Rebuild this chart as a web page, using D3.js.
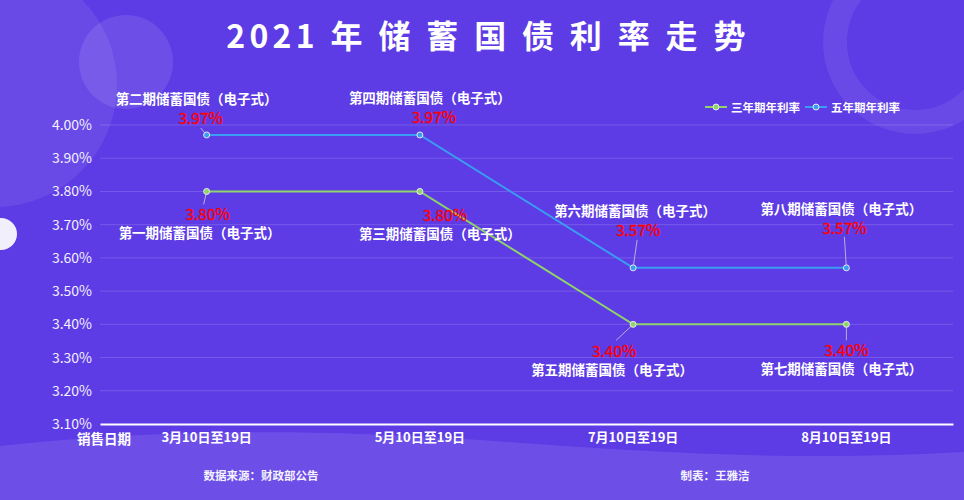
<!DOCTYPE html>
<html>
<head>
<meta charset="utf-8">
<script src="https://cdn.jsdelivr.net/npm/d3@7"></script>
<style>
  html, body { margin: 0; padding: 0; background: #5d3be5; }
  svg { display: block; }
  text { font-family: "Noto Sans CJK SC", "Noto Sans", sans-serif; }
</style>
</head>
<body>
<svg id="chart" width="964" height="500"></svg>
<script>
// data
let categories = ['3月10日至19日', '5月10日至19日', '7月10日至19日', '8月10日至19日'];
let threeYearRates = [3.80, 3.80, 3.40, 3.40];
let fiveYearRates = [3.97, 3.97, 3.57, 3.57];
let threeYearNames = ['第一期储蓄国债（电子式）', '第三期储蓄国债（电子式）', '第五期储蓄国债（电子式）', '第七期储蓄国债（电子式）'];
let fiveYearNames = ['第二期储蓄国债（电子式）', '第四期储蓄国债（电子式）', '第六期储蓄国债（电子式）', '第八期储蓄国债（电子式）'];
let seriesNames = ['三年期年利率', '五年期年利率'];
let yTicks = [3.1, 3.2, 3.3, 3.4, 3.5, 3.6, 3.7, 3.8, 3.9, 4.0];

let GREEN = '#8fd46a';
let BLUE = '#3a9cf2';

// label offsets from the point: [valueDx, valueDy, nameDx, nameDy, leaderDx, leaderDy]
let threeOffsets = [[1, 22, -7, 40, -3, 13], [25, 23, 20, 41, 0, 0], [-19, 26, -21, 44, -17, 16], [0, 25, -5, 43, 0, 16]];
let fiveOffsets = [[-6, -18, -10, -36, -6, -7], [14, -19, 10, -37, 0, 0], [5, -39, 2, -57, 4, -28], [-2, -41, -5, -59, -2, -31]];

let svg = d3.select('#chart');

// background decoration
svg.append('rect').attr('width', 964).attr('height', 500).attr('fill', '#5d3be5');
svg.append('circle').attr('cx', -5).attr('cy', 85).attr('r', 122)
    .attr('fill', '#ffffff').attr('fill-opacity', 0.08);
svg.append('circle').attr('cx', 126).attr('cy', 62).attr('r', 47)
    .attr('fill', '#ffffff').attr('fill-opacity', 0.1);
svg.append('circle').attr('cx', 915).attr('cy', 42).attr('r', 80)
    .attr('fill', 'none').attr('stroke', '#ffffff').attr('stroke-opacity', 0.08).attr('stroke-width', 24);
svg.append('circle').attr('cx', 1).attr('cy', 234).attr('r', 16).attr('fill', '#f1effc');
svg.append('path')
    .attr('d', 'M0,446 C150,430 300,428 480,440 C640,452 800,462 964,452 L964,500 L0,500 Z')
    .attr('fill', '#ffffff').attr('fill-opacity', 0.1);

// title
svg.append('text')
    .attr('x', 488).attr('y', 48)
    .attr('text-anchor', 'middle')
    .attr('fill', '#ffffff')
    .attr('font-size', 32).attr('font-weight', 'bold')
    .attr('letter-spacing', 4.3)
    .text('2021 年 储 蓄 国 债 利 率 走 势');

// scales
let x = d3.scaleBand().domain(categories).range([100, 953]);
let y = d3.scaleLinear().domain([3.1, 4.0]).range([424, 125]);

// grid
svg.append('g')
    .selectAll('line')
    .data(yTicks.slice(1))
    .join('line')
    .attr('x1', 100).attr('x2', 953)
    .attr('y1', d => y(d)).attr('y2', d => y(d))
    .attr('stroke', '#ffffff').attr('stroke-opacity', 0.16).attr('stroke-width', 1);

// y axis
let yAxis = svg.append('g')
    .attr('transform', 'translate(100,0)')
    .call(d3.axisLeft(y).tickValues(yTicks).tickFormat(d => d.toFixed(2) + '%').tickSize(0).tickPadding(8));
yAxis.select('.domain').remove();
yAxis.selectAll('text').attr('fill', '#f2f0ff').attr('font-size', 14)
    .attr('font-family', '"Liberation Sans", "Noto Sans", sans-serif');

// x axis
let xAxis = svg.append('g')
    .attr('transform', 'translate(0,424)')
    .call(d3.axisBottom(x).tickSize(0).tickPadding(9));
xAxis.select('.domain').attr('stroke', '#ffffff').attr('stroke-width', 2);
xAxis.selectAll('text').attr('fill', '#ffffff').attr('font-size', 13).attr('font-weight', 'bold')
    .attr('font-family', '"Noto Sans CJK SC", sans-serif');

svg.append('text')
    .attr('x', 104).attr('y', 438)
    .attr('text-anchor', 'middle').attr('dominant-baseline', 'central')
    .attr('fill', '#ffffff').attr('font-size', 13.5).attr('font-weight', 'bold')
    .text('销售日期');

// lines
let line = d3.line()
    .x((d, i) => x(categories[i]) + x.bandwidth() / 2)
    .y(d => y(d));

function drawSeries(values, color) {
    svg.append('path')
        .datum(values)
        .attr('d', line)
        .attr('fill', 'none')
        .attr('stroke', color)
        .attr('stroke-width', 2);
}

drawSeries(threeYearRates, GREEN);
drawSeries(fiveYearRates, BLUE);

// labels with leader lines
function drawLabels(values, names, offsets) {
    let g = svg.append('g');
    values.forEach((v, i) => {
        let px = x(categories[i]) + x.bandwidth() / 2;
        let py = y(v);
        let o = offsets[i];
        // nudge value and name one px apart so the two texts do not touch
        let gap = o[3] > o[1] ? 1 : -1;
        if (o[4] !== 0 || o[5] !== 0) {
            g.append('line')
                .attr('x1', px).attr('y1', py)
                .attr('x2', px + o[4]).attr('y2', py + o[5])
                .attr('stroke', '#b8b0d8').attr('stroke-width', 1);
        }
        g.append('text')
            .attr('x', px + o[2]).attr('y', py + o[3] + gap)
            .attr('text-anchor', 'middle').attr('dominant-baseline', 'central')
            .attr('fill', '#ffffff').attr('font-size', 13.5).attr('font-weight', 'bold')
            .text(names[i]);
        g.append('text')
            .attr('x', px + o[0]).attr('y', py + o[1])
            .attr('text-anchor', 'middle').attr('dominant-baseline', 'central')
            .attr('fill', '#ff0000').attr('font-size', 15.5)
            .attr('stroke', '#ff0000').attr('stroke-width', 0.3)
            .attr('font-family', '"Liberation Sans", "Noto Sans", sans-serif')
            .text(v.toFixed(2) + '%');
    });
}

drawLabels(threeYearRates, threeYearNames, threeOffsets);
drawLabels(fiveYearRates, fiveYearNames, fiveOffsets);

// points
function drawPoints(values, color) {
    svg.append('g')
        .selectAll('circle')
        .data(values)
        .join('circle')
        .attr('cx', (d, i) => x(categories[i]) + x.bandwidth() / 2)
        .attr('cy', d => y(d))
        .attr('r', 3)
        .attr('fill', color)
        .attr('stroke', '#e8e8f0').attr('stroke-width', 1);
}

drawPoints(threeYearRates, GREEN);
drawPoints(fiveYearRates, BLUE);

// legend
let legend = svg.append('g').attr('transform', 'translate(705,107)');
[GREEN, BLUE].forEach((c, i) => {
    let lg = legend.append('g').attr('transform', 'translate(' + (i * 100) + ',0)');
    lg.append('line').attr('x1', 0).attr('x2', 22).attr('y1', 0).attr('y2', 0)
        .attr('stroke', c).attr('stroke-width', 2);
    lg.append('circle').attr('cx', 11).attr('cy', 0).attr('r', 3)
        .attr('fill', c).attr('stroke', '#e8e8f0').attr('stroke-width', 1);
    lg.append('text').attr('x', 26).attr('y', 0)
        .attr('dominant-baseline', 'central')
        .attr('fill', '#ffffff').attr('font-size', 11.5).attr('font-weight', 'bold')
        .text(seriesNames[i]);
});

// footer
svg.append('text').attr('x', 261).attr('y', 480).attr('text-anchor', 'middle')
    .attr('fill', '#f4f2ff').attr('font-size', 11.5).attr('font-weight', 'bold')
    .text('数据来源：财政部公告');
svg.append('text').attr('x', 715).attr('y', 480).attr('text-anchor', 'middle')
    .attr('fill', '#f4f2ff').attr('font-size', 11.5).attr('font-weight', 'bold')
    .text('制表：王雅洁');
</script>
</body>
</html>
